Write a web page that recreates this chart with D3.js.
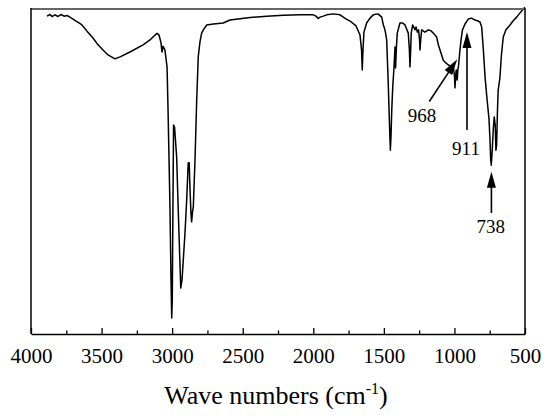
<!DOCTYPE html>
<html>
<head>
<meta charset="utf-8">
<script src="https://cdn.jsdelivr.net/npm/d3@7"></script>
<style>
  html, body { margin: 0; padding: 0; background: #fff; }
  svg { display: block; }
</style>
</head>
<body>
<svg id="chart" width="550" height="419"></svg>
<script>
// ---- data (wavenumber cm-1, transmittance in arbitrary %) ----
const waveNumbers = [
  3887,3865,3851,3830,3809,3787,3766,3745,3724,3702,3681,3660,3639,3603,3561,3525,3490,3454,3405,3369,
  3299,3206,3157,3121,3107,3093,3079,3072,3065,3051,3036,3029,3022,3015,3008,3003,2999,2994,2990,2983,
  2968,2959,2944,2939,2930,2921,2909,2897,2886,2879,2874,2866,2862,2856,2850,2838,2826,2815,2803,2791,
  2779,2755,2708,2638,2590,2448,2330,2212,2094,2000,1981,1965,1952,1929,1905,1858,1811,1775,1740,1697,
  1669,1658,1653,1648,1641,1622,1598,1575,1542,1515,1504,1496,1489,1480,1469,1461,1454,1449,1444,1437,
  1428,1421,1417,1411,1405,1386,1367,1350,1327,1319,1315,1310,1306,1296,1279,1272,1263,1254,1247,1244,
  1239,1232,1209,1185,1166,1150,1126,1114,1102,1079,1067,1043,1019,1008,1000,996,991,987,983,980,
  976,971,961,953,943,925,902,878,854,833,819,807,795,783,769,755,748,743,739,732,
  725,718,711,706,701,695,690,678,667,654,635,606,585,559,535,512,501
];
const transmittance = [
  97.5,98.0,97.4,97.9,97.4,98.0,97.5,97.7,97.2,96.6,96.0,95.4,94.8,92.9,90.8,88.7,87.1,85.6,84.4,85.0,
  86.5,88.7,90.2,91.7,92.2,91.7,89.3,86.5,88.3,87.1,81.9,68.7,53.4,38.0,16.6,4.9,10.4,41.1,64.1,63.5,
  54.3,41.1,20.6,14.1,16.6,22.7,31.0,41.1,52.5,52.5,45.1,36.5,34.4,37.4,39.0,53.4,71.8,85.0,89.6,92.3,
  93.3,94.8,95.1,95.4,96.3,97.1,97.5,97.8,97.9,97.9,97.5,96.8,97.2,97.5,97.9,98.2,97.9,96.8,96.0,94.5,
  91.7,87.1,81.0,87.1,92.6,95.4,96.9,97.9,98.2,97.2,94.8,93.9,92.6,90.2,77.0,65.6,56.4,61.0,68.7,75.8,
  81.9,88.0,81.6,88.0,92.3,95.4,95.4,94.8,92.3,87.1,81.9,87.1,92.3,94.8,93.3,94.2,92.6,93.3,90.2,87.1,
  90.2,93.3,92.6,93.3,93.0,92.3,91.1,88.7,87.1,84.0,83.4,82.5,82.0,81.9,79.4,75.5,79.4,81.0,78.5,77.9,
  81.0,82.2,87.1,90.2,93.3,95.1,96.6,96.9,96.3,96.0,95.7,94.2,87.1,78.8,72.1,65.9,59.5,53.4,51.8,56.4,
  62.6,66.6,64.1,56.4,58.0,68.7,74.8,78.5,85.6,91.1,93.3,94.8,96.0,97.2,98.5,99.7,100.2
];

const majorTicks = [4000,3500,3000,2500,2000,1500,1000,500];
const minorTicks = [3750,3250,2750,2250,1750,1250,750];

// annotations: label, tip (wave, T), tail (wave, T), label anchor (wave, T)
const annLabels   = ["968", "911", "738"];
const annTipWave  = [980, 911, 738];
const annTipT     = [84.3, 92.6, 49.8];
const annTailWave = [1178, 911, 738];
const annTailT    = [71.3, 62.6, 37.1];
const annTextWave = [1230, 918, 743];
const annTextT    = [65.0, 54.9, 31.0];

(function () {
  const FONT = "Liberation Serif, DejaVu Serif, serif";
  const svg = d3.select("#chart");
  const mLeft = 31, mRight = 525, mTop = 8, mBottom = 334;

  const x = d3.scaleLinear().domain([4000, 500]).range([mLeft, mRight]);
  const y = d3.scaleLinear().domain([0, 100]).range([mBottom, mTop]);

  const spectrum = waveNumbers.map((w, i) => ({ w: w, t: transmittance[i] }));

  // spectrum line
  svg.append("path")
    .datum(spectrum)
    .attr("fill", "none")
    .attr("stroke", "#000")
    .attr("stroke-width", 1.5)
    .attr("stroke-linejoin", "round")
    .attr("d", d3.line().x(d => x(d.w)).y(d => y(d.t)));

  // frame
  svg.append("line").attr("x1", mLeft).attr("x2", mRight).attr("y1", mTop + 1).attr("y2", mTop + 1)
    .attr("stroke", "#666").attr("stroke-width", 2);
  svg.append("line").attr("x1", mLeft).attr("x2", mLeft).attr("y1", mTop).attr("y2", mBottom)
    .attr("stroke", "#000").attr("stroke-width", 1.5);
  svg.append("line").attr("x1", mRight).attr("x2", mRight).attr("y1", mTop).attr("y2", mBottom)
    .attr("stroke", "#000").attr("stroke-width", 1.5);

  // bottom axis, major ticks with labels
  const gMajor = svg.append("g")
    .attr("transform", `translate(0,${mBottom})`)
    .call(d3.axisBottom(x).tickValues(majorTicks).tickFormat(d3.format("d"))
      .tickSizeInner(-6).tickSizeOuter(0).tickPadding(14));
  gMajor.attr("font-family", FONT).attr("font-size", 21);
  gMajor.select(".domain").attr("stroke", "#000").attr("stroke-width", 1.5);
  gMajor.selectAll(".tick line").attr("stroke", "#000").attr("stroke-width", 1.3);
  gMajor.selectAll(".tick text")
    .attr("font-family", FONT)
    .attr("font-size", 21).attr("fill", "#000");

  // minor ticks
  const gMinor = svg.append("g")
    .attr("transform", `translate(0,${mBottom})`)
    .call(d3.axisBottom(x).tickValues(minorTicks).tickFormat("")
      .tickSizeInner(-3.5).tickSizeOuter(0));
  gMinor.select(".domain").remove();
  gMinor.selectAll(".tick line").attr("stroke", "#000").attr("stroke-width", 1.3);

  // axis title
  const title = svg.append("text")
    .attr("x", (mLeft + mRight) / 2 - 2)
    .attr("y", 404)
    .attr("text-anchor", "middle")
    .attr("font-family", FONT)
    .attr("font-size", 26)
    .attr("fill", "#000");
  title.append("tspan").text("Wave numbers (cm");
  title.append("tspan").attr("dy", -10).attr("font-size", 16).text("-1");
  title.append("tspan").attr("dy", 10).text(")");

  // annotations with arrows
  const headLen = 16, headHalf = 4.5;
  annLabels.forEach((lab, i) => {
    const x1 = x(annTailWave[i]), y1 = y(annTailT[i]);
    const x2 = x(annTipWave[i]), y2 = y(annTipT[i]);
    const dx = x2 - x1, dy = y2 - y1, len = Math.hypot(dx, dy);
    const ux = dx / len, uy = dy / len;
    const bx = x2 - ux * headLen, by = y2 - uy * headLen;
    svg.append("line")
      .attr("x1", x1).attr("y1", y1).attr("x2", bx + ux * 2).attr("y2", by + uy * 2)
      .attr("stroke", "#000").attr("stroke-width", 1.6);
    svg.append("path")
      .attr("d", `M${x2},${y2}L${bx - uy * headHalf},${by + ux * headHalf}L${bx + uy * headHalf},${by - ux * headHalf}Z`)
      .attr("fill", "#000");
    svg.append("text")
      .attr("x", x(annTextWave[i]))
      .attr("y", y(annTextT[i]))
      .attr("text-anchor", "middle")
      .attr("font-family", FONT)
      .attr("font-size", 19)
      .attr("fill", "#000")
      .text(lab);
  });
})();
</script>
</body>
</html>
